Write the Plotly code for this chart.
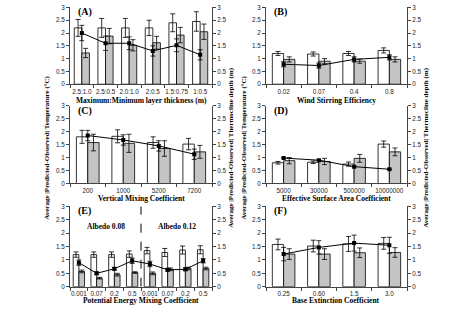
import plotly.graph_objects as go

# ---------------- data ----------------
a_cats = ["2.5:1.0", "2.5:0.5", "2.0:1.0", "2:0.5", "1.5:0.75", "1:0.5"]
a_temp = [2.2, 2.2, 2.2, 2.2, 2.4, 2.45]
a_temp_err = [0.33, 0.37, 0.37, 0.3, 0.35, 0.38]
a_therm = [1.22, 1.88, 1.52, 1.62, 1.92, 2.05]
a_therm_err = [0.18, 0.3, 0.22, 0.25, 0.3, 0.3]
a_line = [2.0, 1.6, 1.6, 1.3, 1.52, 1.15]
a_line_err = [0.3, 0.28, 0.25, 0.2, 0.25, 0.2]

b_cats = ["0.02", "0.07", "0.4", "0.8"]
b_temp = [1.2, 1.18, 1.2, 1.32]
b_temp_err = [0.08, 0.08, 0.08, 0.1]
b_therm = [0.97, 0.9, 0.9, 0.97]
b_therm_err = [0.1, 0.1, 0.08, 0.1]
b_line = [0.78, 0.73, 0.97, 1.05]
b_line_err = [0.1, 0.1, 0.1, 0.1]

c_cats = ["200", "1000", "5200", "7200"]
c_temp = [1.8, 1.82, 1.58, 1.52]
c_temp_err = [0.25, 0.25, 0.22, 0.22]
c_therm = [1.58, 1.55, 1.35, 1.22]
c_therm_err = [0.32, 0.35, 0.3, 0.25]
c_line = [1.85, 1.68, 1.45, 1.13]
c_line_err = [0.2, 0.2, 0.2, 0.2]

d_cats = ["5000", "30000", "500000", "10000000"]
d_temp = [0.8, 0.82, 0.75, 1.52]
d_temp_err = [0.05, 0.05, 0.08, 0.12]
d_therm = [0.88, 0.85, 0.97, 1.22]
d_therm_err = [0.12, 0.12, 0.15, 0.15]
d_line = [0.98, 0.9, 0.65, 0.55]
d_line_err = [0.0, 0.0, 0.0, 0.0]

e_cats = ["0.001", "0.07", "0.2", "0.5", "0.001", "0.07", "0.2", "0.5"]
e_temp = [1.2, 1.2, 1.2, 1.22, 1.35, 1.28, 1.37, 1.38]
e_temp_err = [0.1, 0.1, 0.1, 0.12, 0.12, 0.15, 0.15, 0.15]
e_therm = [0.57, 0.32, 0.45, 0.53, 0.5, 0.65, 0.68, 0.68]
e_therm_err = [0.05, 0.03, 0.05, 0.03, 0.05, 0.05, 0.05, 0.05]
e_line = [0.9, 0.5, 0.67, 0.97, 0.85, 0.63, 0.65, 0.97]
e_line_err = [0.1, 0.05, 0.05, 0.1, 0.1, 0.05, 0.05, 0.08]

f_cats = ["0.25", "0.60", "1.5", "3.0"]
f_temp = [1.58, 1.52, 1.6, 1.62]
f_temp_err = [0.2, 0.22, 0.28, 0.22]
f_therm = [1.22, 1.22, 1.27, 1.28]
f_therm_err = [0.2, 0.2, 0.18, 0.18]
f_line = [1.22, 1.47, 1.63, 1.55]
f_line_err = [0.25, 0.25, 0.3, 0.3]

panel_labels = ["(A)", "(B)", "(C)", "(D)", "(E)", "(F)"]
x_titles = ["Maximum:Minimum layer thickness (m)", "Wind Stirring Efficiency",
            "Vertical Mixing Coefficient", "Effective Surface Area Coefficient",
            "Potential Energy Mixing Coefficient", "Base Extinction Coefficient"]
y_left_title = "Average |Predicted-Observed| Temperature (°C)"
y_right_title = "Average |Predicted-Observed| Thermocline depth (m)"

panels = [
    (a_cats, a_temp, a_temp_err, a_therm, a_therm_err, a_line, a_line_err),
    (b_cats, b_temp, b_temp_err, b_therm, b_therm_err, b_line, b_line_err),
    (c_cats, c_temp, c_temp_err, c_therm, c_therm_err, c_line, c_line_err),
    (d_cats, d_temp, d_temp_err, d_therm, d_therm_err, d_line, d_line_err),
    (e_cats, e_temp, e_temp_err, e_therm, e_therm_err, e_line, e_line_err),
    (f_cats, f_temp, f_temp_err, f_therm, f_therm_err, f_line, f_line_err),
]

# ---------------- layout geometry ----------------
W, H = 474, 321
xdoms = [(70 / W, 212 / W), (266 / W, 407 / W)]
ydoms = [(1 - 82 / H, 1 - 3.5 / H), (1 - 183.5 / H, 1 - 104 / H), (1 - 289 / H, 1 - 207 / H)]
title_y = [1 - 98.5 / H, 1 - 198.5 / H, 1 - 303.5 / H]

SERIF = "Liberation Serif"
SANS = "Liberation Sans"
tickfont = dict(family=SANS, size=6.3, color="#222")
err_style = dict(type="data", visible=True, color="black", thickness=0.8, width=2.5)

fig = go.Figure()
layout = dict(
    width=W, height=H, margin=dict(l=0, r=0, t=0, b=0),
    paper_bgcolor="white", plot_bgcolor="white",
    showlegend=False, barmode="group", bargap=0.36, bargroupgap=0,
    annotations=[], shapes=[],
)

for i, (cats, temp, temp_err, therm, therm_err, line, line_err) in enumerate(panels):
    row, col = i // 2, i % 2
    xn = i + 1
    yl = 2 * i + 1
    yr = 2 * i + 2
    xs = list(range(len(cats)))
    xref = "x" if xn == 1 else f"x{xn}"
    ylref = "y" if yl == 1 else f"y{yl}"
    yrref = f"y{yr}"
    fig.add_trace(go.Bar(x=xs, y=temp, error_y=dict(array=temp_err, **err_style),
                         marker=dict(color="white", line=dict(color="black", width=0.8)),
                         xaxis=xref, yaxis=ylref, offsetgroup="a"))
    fig.add_trace(go.Bar(x=xs, y=therm, error_y=dict(array=therm_err, **err_style),
                         marker=dict(color="#c4c4c4", line=dict(color="black", width=0.8)),
                         xaxis=xref, yaxis=ylref, offsetgroup="b"))
    fig.add_trace(go.Scatter(x=xs, y=line, mode="lines+markers",
                             error_y=dict(array=line_err, **err_style),
                             line=dict(color="black", width=1),
                             marker=dict(symbol="square", size=4, color="black"),
                             xaxis=xref, yaxis=yrref))
    n = len(cats)
    xkey = "xaxis" if xn == 1 else f"xaxis{xn}"
    layout[xkey] = dict(
        domain=xdoms[col], anchor=ylref, range=[-0.5, n - 0.5],
        tickmode="array", tickvals=xs, ticktext=cats, ticks="",
        tickfont=tickfont, showline=True, linecolor="#444", linewidth=1,
        showgrid=False, zeroline=False, ticklabelstandoff=1,
        minor=dict(ticks="outside", tick0=-0.5, dtick=1, ticklen=3, tickcolor="#444"),
    )
    ykey = "yaxis" if yl == 1 else f"yaxis{yl}"
    layout[ykey] = dict(
        domain=ydoms[row], anchor=xref, range=[0, 3], dtick=0.5,
        ticks="outside", ticklen=3, tickcolor="#444", tickfont=tickfont,
        showline=True, linecolor="#444", linewidth=1, showgrid=False, zeroline=False,
    )
    layout[f"yaxis{yr}"] = dict(
        domain=ydoms[row], anchor=xref, overlaying=ylref, side="right",
        range=[0, 3], dtick=0.5, ticks="outside", ticklen=3, tickcolor="#444",
        tickfont=tickfont, showline=True, linecolor="#444", linewidth=1,
        showgrid=False, zeroline=False,
    )
    # panel label
    layout["annotations"].append(dict(
        text=f"<b>{panel_labels[i]}</b>", xref=f"{xref} domain", yref=f"{ylref} domain",
        x=0.04, y=1.04, xanchor="left", yanchor="top", showarrow=False,
        font=dict(family=SERIF, size=10, color="black")))
    # x title
    layout["annotations"].append(dict(
        text=f"<b>{x_titles[i]}</b>", xref="paper", yref="paper",
        x=(xdoms[col][0] + xdoms[col][1]) / 2, y=title_y[row],
        xanchor="center", yanchor="middle", showarrow=False,
        font=dict(family=SERIF, size=7.5, color="black")))

# Panel E extras: albedo split
layout["shapes"].append(dict(type="line", xref="x5", yref="y9", x0=3.5, x1=3.5, y0=0, y1=3,
                             line=dict(color="black", width=1, dash="dash")))
layout["annotations"].append(dict(text="<b>Albedo 0.08</b>", xref="x5", yref="y9", x=1.5, y=2.25,
                                  showarrow=False, font=dict(family=SERIF, size=7.5, color="black")))
layout["annotations"].append(dict(text="<b>Albedo 0.12</b>", xref="x5", yref="y9", x=5.5, y=2.25,
                                  showarrow=False, font=dict(family=SERIF, size=7.5, color="black")))

# Y axis titles
for xp, txt in [(47, y_left_title), (231, y_right_title), (244, y_left_title), (426, y_right_title)]:
    layout["annotations"].append(dict(
        text=f"<b>{txt}</b>", xref="paper", yref="paper", x=xp / W, y=1 - 147 / H,
        xanchor="center", yanchor="middle", textangle=-90, showarrow=False,
        font=dict(family=SERIF, size=7, color="black")))

fig.update_layout(**layout)
fig.write_html("out.html")
